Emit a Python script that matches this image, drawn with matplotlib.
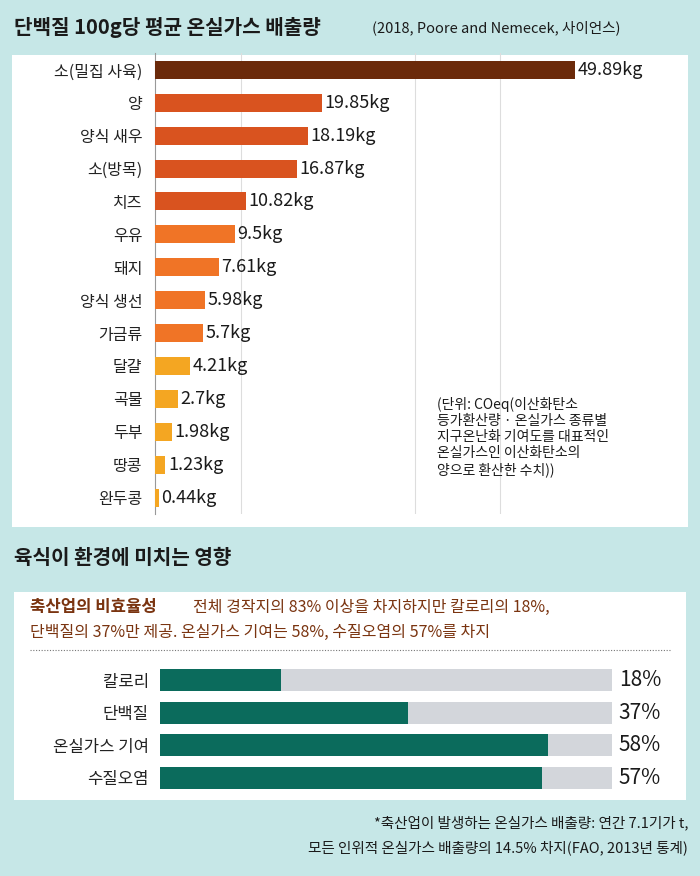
import matplotlib.pyplot as plt
from matplotlib.patches import Rectangle
from matplotlib.lines import Line2D
from matplotlib import font_manager

# pick an installed CJK family
names = {f.name for f in font_manager.fontManager.ttflist}
cjk = [n for n in ['Noto Sans CJK KR', 'Noto Sans CJK JP', 'Noto Sans CJK SC',
                   'Noto Sans CJK TC'] if n in names]
if not cjk:
    cjk = [f.name for f in font_manager.fontManager.ttflist if 'CJK' in f.name][:1]
plt.rcParams['font.family'] = cjk + ['DejaVu Sans']

# data
foods = ['소(밀집 사육)', '양', '양식 새우', '소(방목)', '치즈', '우유', '돼지',
         '양식 생선', '가금류', '달걀', '곡물', '두부', '땅콩', '완두콩']
emissions = [49.89, 19.85, 18.19, 16.87, 10.82, 9.5, 7.61, 5.98, 5.7, 4.21, 2.7, 1.98, 1.23, 0.44]
value_labels = ['49.89kg', '19.85kg', '18.19kg', '16.87kg', '10.82kg', '9.5kg', '7.61kg',
                '5.98kg', '5.7kg', '4.21kg', '2.7kg', '1.98kg', '1.23kg', '0.44kg']
food_colors = ['#6b2a0a'] + ['#d9531f'] * 4 + ['#f07426'] * 4 + ['#f4a622'] * 5

impacts = ['칼로리', '단백질', '온실가스 기여', '수질오염']
impact_pct = [18, 37, 58, 57]
track_max = 67.5  # grey track length as drawn in the graphic

W, H = 700, 876
BG = '#c6e7e7'

fig = plt.figure(figsize=(7, 8.76), dpi=100)
fig.patch.set_facecolor(BG)


def fy(py):
    return 1 - py / H


def fx(px):
    return px / W


# panels
fig.add_artist(Rectangle((fx(12), fy(527)), fx(676), 472 / H, transform=fig.transFigure,
                         facecolor='white', edgecolor='none', zorder=0))
fig.add_artist(Rectangle((fx(14), fy(800)), fx(672), 208 / H, transform=fig.transFigure,
                         facecolor='white', edgecolor='none', zorder=0))

# titles
fig.text(fx(14), fy(27), '단백질 100g당 평균 온실가스 배출량', fontsize=14.5, fontweight='bold',
         va='center', color='#1a1a1a')
fig.text(fx(372), fy(28), '(2018, Poore and Nemecek, 사이언스)', fontsize=10.5,
         va='center', color='#1a1a1a')
fig.text(fx(14), fy(558), '육식이 환경에 미치는 영향', fontsize=14.5, fontweight='bold',
         va='center', color='#1a1a1a')

# top bar chart
ax = fig.add_axes([fx(155), fy(514), fx(640 - 155), 460.6 / H])
ax.set_facecolor('none')
ypos = list(range(len(foods)))
ax.barh(ypos, emissions, height=0.55, color=food_colors, zorder=3)
ax.set_ylim(13.5, -0.5)
ax.set_xlim(0, 57.6)
ax.set_xticks([10.2, 30.9, 41])
ax.grid(axis='x', color='#dddddd', linewidth=0.8, zorder=0)
ax.tick_params(length=0, labelbottom=False)
ax.set_yticks(ypos)
ax.set_yticklabels(foods, fontsize=11.5, color='#222222')
ax.tick_params(axis='y', pad=9)
for s in ['top', 'right', 'bottom']:
    ax.spines[s].set_visible(False)
ax.spines['left'].set_color('#999999')
ax.spines['left'].set_linewidth(0.8)
for y, v, lab in zip(ypos, emissions, value_labels):
    ax.text(v + 0.3, y, lab, va='center', ha='left', fontsize=13, color='#1a1a1a', zorder=4)

note = ('(단위: COeq(이산화탄소\n등가환산량 · 온실가스 종류별\n지구온난화 기여도를 대표적인\n'
        '온실가스인 이산화탄소의\n양으로 환산한 수치))')
fig.text(fx(437), fy(437), note, fontsize=10, va='center', ha='left',
         linespacing=1.2, color='#1a1a1a')

# bottom text
fig.text(fx(30), fy(607), '축산업의 비효율성', fontsize=12, fontweight='bold',
         color='#7a3410', va='center')
fig.text(fx(193), fy(607), '전체 경작지의 83% 이상을 차지하지만 칼로리의 18%,',
         fontsize=11.5, color='#7a3410', va='center')
fig.text(fx(30), fy(632), '단백질의 37%만 제공. 온실가스 기여는 58%, 수질오염의 57%를 차지',
         fontsize=11.5, color='#7a3410', va='center')
fig.add_artist(Line2D([fx(30), fx(670)], [fy(650), fy(650)], transform=fig.transFigure,
                      color='#777777', linewidth=0.8, linestyle=(0, (1, 1.5))))

# bottom bar chart
ax2 = fig.add_axes([fx(160), fy(794), fx(612 - 160), 130 / H])
ax2.set_facecolor('none')
ypos2 = list(range(len(impacts)))
ax2.barh(ypos2, [track_max] * len(impacts), height=0.68, color='#d3d6db')
ax2.barh(ypos2, impact_pct, height=0.68, color='#0b6b5c')
ax2.set_xlim(0, track_max)
ax2.set_ylim(3.5, -0.5)
ax2.set_yticks(ypos2)
ax2.set_yticklabels(impacts, fontsize=12, color='#222222')
ax2.tick_params(length=0, labelbottom=False, pad=8)
for s in ax2.spines.values():
    s.set_visible(False)
for y, p in zip(ypos2, impact_pct):
    ax2.text(track_max + 1.0, y, f'{p}%', va='center', ha='left', fontsize=15, color='#1a1a1a')

# footnote
fig.text(fx(688), fy(823), '*축산업이 발생하는 온실가스 배출량: 연간 7.1기가 t,',
         fontsize=10.5, ha='right', va='center', color='#1a1a1a')
fig.text(fx(688), fy(848), '모든 인위적 온실가스 배출량의 14.5% 차지(FAO, 2013년 통계)',
         fontsize=10.5, ha='right', va='center', color='#1a1a1a')

fig.savefig('out.png', dpi=100, facecolor=BG)
